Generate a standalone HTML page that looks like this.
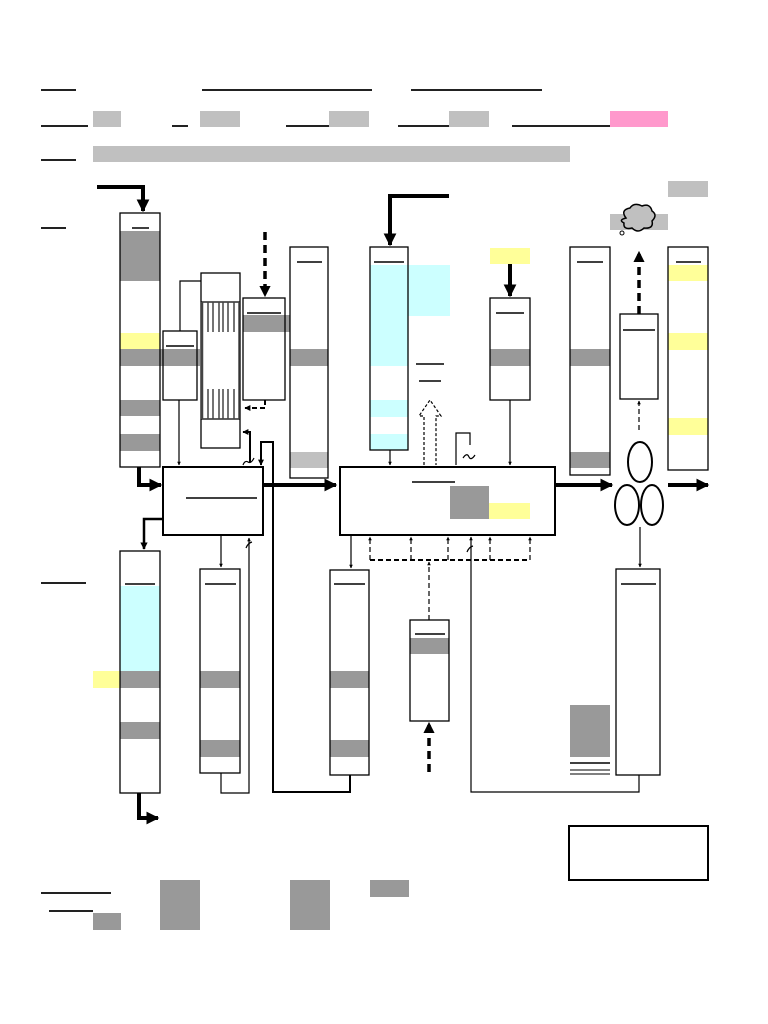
<!DOCTYPE html>
<html><head><meta charset="utf-8"><style>html,body{margin:0;padding:0;background:#fff}svg{display:block}</style></head>
<body>
<svg width="768" height="1024" viewBox="0 0 768 1024" xmlns="http://www.w3.org/2000/svg">
<defs>
<marker id="a" viewBox="0 0 10 10" refX="9" refY="5" markerWidth="3.2" markerHeight="3.2" orient="auto"><path d="M0,0L10,5L0,10z" fill="#000"/></marker>
<marker id="b" viewBox="0 0 10 10" refX="9" refY="5" markerWidth="3.5" markerHeight="3" orient="auto"><path d="M0,0L10,5L0,10z" fill="#000"/></marker>
<marker id="c" viewBox="0 0 10 10" refX="9" refY="5" markerWidth="3" markerHeight="3" orient="auto"><path d="M0,0L10,5L0,10z" fill="#000"/></marker>
</defs>
<g stroke="#222" stroke-width="2">
<line x1="41" y1="90" x2="76" y2="90"/><line x1="202" y1="90" x2="372" y2="90"/><line x1="411" y1="90" x2="542" y2="90"/>
<line x1="41" y1="126" x2="88" y2="126"/><line x1="172" y1="126" x2="188" y2="126"/><line x1="286" y1="126" x2="329" y2="126"/>
<line x1="398" y1="126" x2="449" y2="126"/><line x1="512" y1="126" x2="610" y2="126"/>
<line x1="41" y1="160" x2="76" y2="160"/><line x1="41" y1="228" x2="66" y2="228"/><line x1="41" y1="583" x2="86" y2="583"/>
<line x1="41" y1="893" x2="111" y2="893"/><line x1="49" y1="911" x2="93" y2="911"/>
</g>
<g fill="#c0c0c0">
<rect x="93" y="111" width="28" height="16"/><rect x="200" y="111" width="40" height="16"/><rect x="329" y="111" width="40" height="16"/><rect x="449" y="111" width="40" height="16"/>
<rect x="93" y="146" width="477" height="16"/><rect x="668" y="181" width="40" height="16"/><rect x="610" y="214" width="58" height="16"/>
</g>
<rect x="610" y="111" width="58" height="16" fill="#ff99cc"/>
<path d="M626,218 q-6,-8 4,-10 q4,-6 12,-2 q8,-3 10,5 q6,4 0,10 q2,8 -8,7 q-6,6 -12,0 q-9,2 -8,-5 q-6,-3 2,-5z" fill="#c0c0c0" stroke="#000" stroke-width="1.5"/>
<circle cx="622" cy="233" r="2" fill="none" stroke="#000"/>
<g>
<rect x="120" y="213" width="40" height="254" fill="#fff"/>
<rect x="120" y="231" width="40" height="50" fill="#999"/>
<rect x="120" y="333" width="40" height="16" fill="#ffff99"/>
<rect x="120" y="349" width="80" height="17" fill="#999"/>
<rect x="120" y="400" width="40" height="16" fill="#999"/>
<rect x="120" y="434" width="40" height="17" fill="#999"/>
<rect x="243" y="315" width="47" height="17" fill="#999"/>
<rect x="290" y="349" width="38" height="17" fill="#999"/>
<rect x="290" y="452" width="38" height="16" fill="#c0c0c0"/>
<rect x="370" y="265" width="38" height="101" fill="#ccffff"/>
<rect x="408" y="265" width="42" height="51" fill="#ccffff"/>
<rect x="370" y="400" width="38" height="17" fill="#ccffff"/>
<rect x="370" y="434" width="38" height="16" fill="#ccffff"/>
<rect x="490" y="248" width="40" height="16" fill="#ffff99"/>
<rect x="490" y="349" width="40" height="17" fill="#999"/>
<rect x="570" y="349" width="40" height="17" fill="#999"/>
<rect x="570" y="452" width="40" height="16" fill="#999"/>
<rect x="668" y="265" width="40" height="16" fill="#ffff99"/>
<rect x="668" y="333" width="40" height="17" fill="#ffff99"/>
<rect x="668" y="418" width="40" height="17" fill="#ffff99"/>
<rect x="450" y="486" width="39" height="33" fill="#999"/>
<rect x="489" y="503" width="41" height="16" fill="#ffff99"/>
<rect x="120" y="586" width="40" height="85" fill="#ccffff"/>
<rect x="93" y="671" width="27" height="17" fill="#ffff99"/>
<rect x="120" y="671" width="40" height="17" fill="#999"/>
<rect x="120" y="722" width="40" height="17" fill="#999"/>
<rect x="200" y="671" width="40" height="17" fill="#999"/>
<rect x="200" y="740" width="40" height="17" fill="#999"/>
<rect x="330" y="671" width="39" height="17" fill="#999"/>
<rect x="330" y="740" width="39" height="17" fill="#999"/>
<rect x="410" y="638" width="39" height="16" fill="#999"/>
<rect x="570" y="705" width="40" height="52" fill="#999"/>
<rect x="93" y="913" width="28" height="17" fill="#999"/>
<rect x="160" y="880" width="40" height="50" fill="#999"/>
<rect x="290" y="880" width="40" height="50" fill="#999"/>
<rect x="370" y="880" width="39" height="17" fill="#999"/>
</g>
<g fill="none" stroke="#000" stroke-width="1.3">
<rect x="120" y="213" width="40" height="254"/>
<rect x="163" y="331" width="34" height="69"/>
<rect x="201" y="273" width="39" height="175"/>
<line x1="201" y1="302" x2="240" y2="302"/><line x1="201" y1="419" x2="240" y2="419"/>
<rect x="243" y="298" width="42" height="102"/>
<rect x="290" y="247" width="38" height="231"/>
<rect x="370" y="247" width="38" height="203"/>
<rect x="490" y="298" width="40" height="102"/>
<rect x="570" y="247" width="40" height="228"/>
<rect x="620" y="314" width="38" height="85"/>
<rect x="668" y="247" width="40" height="223"/>
<rect x="120" y="551" width="40" height="242"/>
<rect x="200" y="569" width="40" height="204"/>
<rect x="330" y="570" width="39" height="205"/>
<rect x="410" y="620" width="39" height="101"/>
<rect x="616" y="569" width="44" height="206"/>
</g>
<g stroke="#000" stroke-width="2" fill="none">
<rect x="163" y="467" width="100" height="68"/>
<rect x="340" y="467" width="215" height="68"/>
<rect x="569" y="826" width="139" height="54"/>
<ellipse cx="640" cy="462" rx="12" ry="20"/><ellipse cx="627" cy="505" rx="12" ry="20"/><ellipse cx="652" cy="505" rx="11" ry="20"/>
</g>
<g stroke="#444" stroke-width="1.5">
<line x1="202" y1="302" x2="202" y2="419" stroke-width="2.5"/><line x1="239" y1="302" x2="239" y2="419"/>
<line x1="208" y1="302" x2="208" y2="332"/><line x1="213" y1="302" x2="213" y2="332"/><line x1="219" y1="302" x2="219" y2="332"/><line x1="223" y1="302" x2="223" y2="332"/><line x1="228" y1="302" x2="228" y2="332"/><line x1="234" y1="302" x2="234" y2="332"/>
<line x1="208" y1="389" x2="208" y2="419"/><line x1="213" y1="389" x2="213" y2="419"/><line x1="219" y1="389" x2="219" y2="419"/><line x1="223" y1="389" x2="223" y2="419"/><line x1="228" y1="389" x2="228" y2="419"/><line x1="234" y1="389" x2="234" y2="419"/>
</g>
<g stroke="#000" stroke-width="1.5">
<line x1="132" y1="228" x2="149" y2="228"/><line x1="166" y1="346" x2="194" y2="346"/><line x1="247" y1="313" x2="281" y2="313"/>
<line x1="297" y1="262" x2="322" y2="262"/><line x1="374" y1="262" x2="404" y2="262"/><line x1="496" y1="313" x2="524" y2="313"/>
<line x1="577" y1="262" x2="603" y2="262"/><line x1="623" y1="330" x2="655" y2="330"/><line x1="676" y1="262" x2="701" y2="262"/>
<line x1="186" y1="498" x2="257" y2="498"/><line x1="412" y1="482" x2="455" y2="482"/>
<line x1="416" y1="364" x2="444" y2="364"/><line x1="419" y1="381" x2="441" y2="381"/>
<line x1="125" y1="584" x2="155" y2="584"/><line x1="205" y1="584" x2="236" y2="584"/><line x1="334" y1="584" x2="365" y2="584"/>
<line x1="415" y1="634" x2="445" y2="634"/><line x1="621" y1="584" x2="656" y2="584"/>
<line x1="570" y1="763" x2="610" y2="763"/><line x1="570" y1="770" x2="610" y2="770" stroke-width="1"/><line x1="570" y1="774" x2="610" y2="774" stroke-width="1"/>
</g>
<g stroke="#000" stroke-width="4" fill="none" marker-end="url(#a)">
<path d="M97,187H143V211"/>
<path d="M449,196H390V245"/>
<path d="M510,264V296"/>
<path d="M139,467V485H161"/>
<path d="M263,485H336"/>
<path d="M555,485H612"/>
<path d="M668,485H708"/>
<path d="M139,793V818H158"/>
</g>
<path d="M163,519H144V549" stroke="#000" stroke-width="2.5" fill="none" marker-end="url(#c)"/>
<g stroke="#000" stroke-width="3.5" fill="none" stroke-dasharray="8,5" marker-end="url(#a)">
<path d="M265,232V296"/><path d="M639,314V252"/><path d="M429,772V723"/>
</g>
<g stroke="#000" stroke-width="1.2" fill="none">
<path d="M180,331V281H201"/>
<path d="M179,400V465" marker-end="url(#b)"/>
<path d="M390,450V465" marker-end="url(#b)"/>
<path d="M510,400V465" marker-end="url(#b)"/>
<path d="M221,535V567" marker-end="url(#b)"/>
<path d="M351,535V568" marker-end="url(#b)"/>
<path d="M640,527V567" marker-end="url(#b)"/>
<path d="M221,773V793H249V538" marker-end="url(#b)"/>
<path d="M350,775V792H273V442H261V465" stroke-width="2" marker-end="url(#b)"/>
<path d="M250,462V432H243" stroke-width="2" marker-end="url(#b)"/>
<path d="M639,775V792H471V537" marker-end="url(#b)"/>
<path d="M456,465V433H470V445"/>
<path d="M463,458q4,-6 6,-1q2,4 6,-2"/>
<path d="M243,465q2,-5 5,-3q3,2 6,-4"/>
<path d="M246,548q2,-5 6,-6"/>
<path d="M467,552q2,-5 6,-6"/>
</g>
<g stroke="#000" stroke-width="1.2" fill="none" stroke-dasharray="5,3">
<path d="M265,400V408H245" stroke-width="2" marker-end="url(#b)"/>
<path d="M639,430V401" marker-end="url(#b)"/>
<path d="M429,620V562" marker-end="url(#b)"/>
<path d="M370,560H530" stroke-width="2"/>
<path d="M370,560V537" marker-end="url(#b)"/><path d="M411,560V537" marker-end="url(#b)"/><path d="M448,560V537" marker-end="url(#b)"/><path d="M490,560V537" marker-end="url(#b)"/><path d="M530,560V537" marker-end="url(#b)"/>
<path d="M424,465V416H419L430,400L441,416H436V465" stroke-dasharray="3,2"/>
</g>
</svg>
</body></html>
